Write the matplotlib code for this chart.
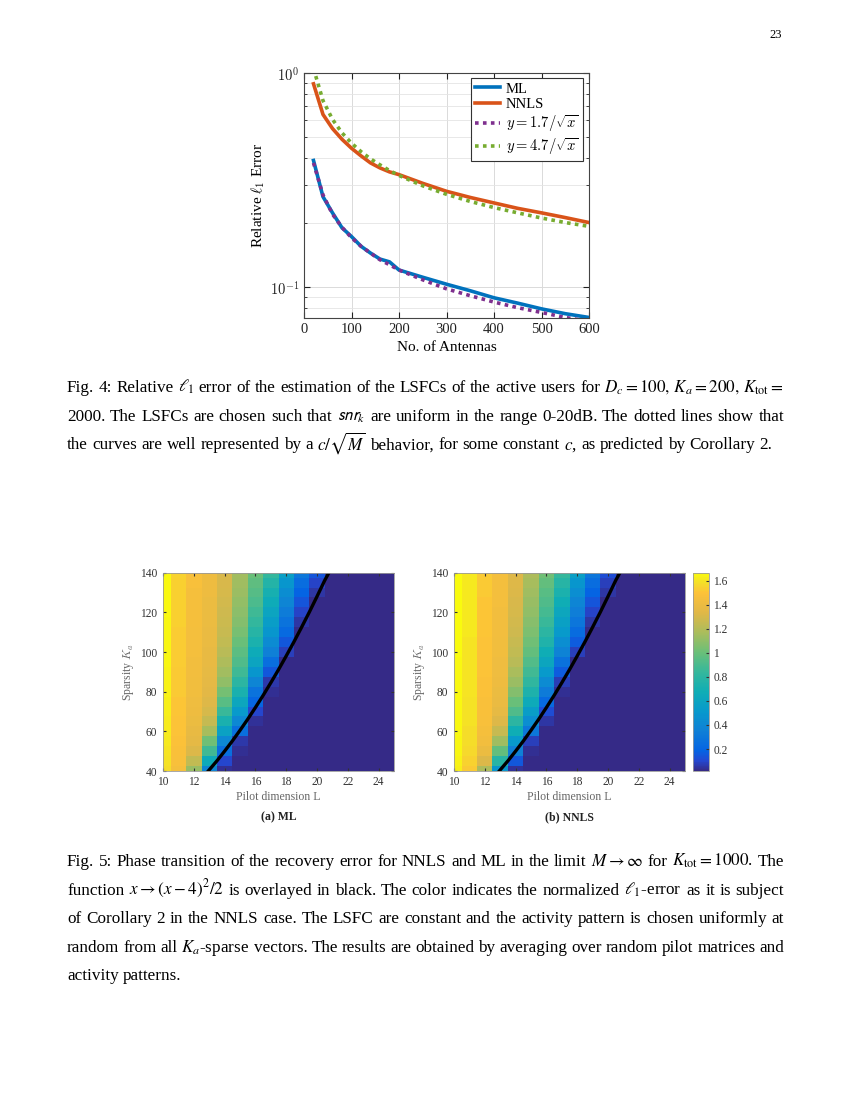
import re
import numpy as np
import matplotlib
matplotlib.use("Agg")
import matplotlib.pyplot as plt
from matplotlib.colors import LinearSegmentedColormap
from matplotlib.ticker import LogLocator, NullFormatter, FixedLocator

# ---- Fig. 4 data: relative l1 error vs number of antennas
antennas = [20, 40, 60, 80, 100, 120, 140, 160, 180, 200, 250, 300, 350, 400, 450, 500, 550, 600]
ml_err = [0.39, 0.264, 0.222, 0.189, 0.172, 0.155, 0.144, 0.135, 0.131, 0.120, 0.111,
          0.103, 0.096, 0.089, 0.084, 0.079, 0.075, 0.072]
nnls_err = [0.89, 0.64, 0.55, 0.49, 0.445, 0.41, 0.38, 0.36, 0.345, 0.335, 0.305,
            0.28, 0.262, 0.247, 0.233, 0.222, 0.211, 0.200]
fit_ml = [0.380, 0.269, 0.219, 0.190, 0.170, 0.155, 0.144, 0.134, 0.127, 0.120, 0.108,
          0.098, 0.091, 0.085, 0.080, 0.076, 0.072, 0.069]
fit_nnls = [1.05, 0.743, 0.607, 0.525, 0.47, 0.429, 0.397, 0.372, 0.350, 0.332, 0.297,
            0.271, 0.251, 0.235, 0.222, 0.210, 0.200, 0.192]

# ---- Fig. 5 data: phase transition, rows = sparsity, columns = pilot dimension
pilot_dim = [10, 11, 12, 13, 14, 15, 16, 17, 18, 19, 20, 21, 22, 23, 24, 25]
sparsity = [40, 45, 50, 55, 60, 65, 70, 75, 80, 85, 90, 95, 100, 105, 110, 115, 120, 125, 130, 135, 140]

ml_cols = [
    [1.58, 1.59, 1.60, 1.61, 1.62, 1.62, 1.63, 1.63, 1.64, 1.64, 1.64, 1.65, 1.65, 1.65, 1.65, 1.65, 1.66, 1.66, 1.66, 1.66, 1.66],
    [1.45, 1.47, 1.48, 1.49, 1.50, 1.50, 1.51, 1.51, 1.52, 1.52, 1.52, 1.53, 1.53, 1.53, 1.53, 1.54, 1.54, 1.54, 1.54, 1.54, 1.55],
    [1.12, 1.24, 1.32, 1.36, 1.38, 1.40, 1.41, 1.42, 1.43, 1.43, 1.44, 1.44, 1.45, 1.45, 1.45, 1.46, 1.46, 1.46, 1.46, 1.47, 1.47],
    [0.38, 0.65, 0.88, 1.02, 1.16, 1.25, 1.30, 1.33, 1.35, 1.36, 1.37, 1.38, 1.38, 1.39, 1.39, 1.40, 1.40, 1.40, 1.41, 1.41, 1.41],
    [0.03, 0.10, 0.25, 0.40, 0.58, 0.72, 0.85, 0.95, 1.03, 1.10, 1.15, 1.18, 1.21, 1.24, 1.26, 1.27, 1.28, 1.29, 1.30, 1.31, 1.31],
    [0.02, 0.02, 0.03, 0.06, 0.25, 0.40, 0.52, 0.62, 0.72, 0.80, 0.87, 0.92, 0.96, 1.00, 1.04, 1.07, 1.09, 1.11, 1.13, 1.14, 1.15],
    [0.02, 0.02, 0.02, 0.02, 0.02, 0.04, 0.10, 0.20, 0.28, 0.38, 0.50, 0.60, 0.66, 0.73, 0.78, 0.83, 0.87, 0.91, 0.94, 0.97, 1.00],
    [0.02, 0.02, 0.02, 0.02, 0.02, 0.02, 0.02, 0.02, 0.03, 0.06, 0.15, 0.25, 0.35, 0.42, 0.50, 0.55, 0.60, 0.66, 0.71, 0.77, 0.83],
    [0.02, 0.02, 0.02, 0.02, 0.02, 0.02, 0.02, 0.02, 0.02, 0.02, 0.02, 0.02, 0.08, 0.15, 0.22, 0.28, 0.33, 0.38, 0.43, 0.50, 0.56],
    [0.02, 0.02, 0.02, 0.02, 0.02, 0.02, 0.02, 0.02, 0.02, 0.02, 0.02, 0.02, 0.02, 0.02, 0.02, 0.05, 0.09, 0.14, 0.19, 0.24, 0.30],
    [0.02, 0.02, 0.02, 0.02, 0.02, 0.02, 0.02, 0.02, 0.02, 0.02, 0.02, 0.02, 0.02, 0.02, 0.02, 0.02, 0.02, 0.02, 0.05, 0.09, 0.14],
    [0.02] * 21, [0.02] * 21, [0.02] * 21, [0.02] * 21, [0.02] * 21,
]
nnls_cols = [
    [1.63, 1.64, 1.65, 1.65, 1.66, 1.66, 1.66, 1.66, 1.66, 1.66, 1.66, 1.66, 1.67, 1.67, 1.67, 1.67, 1.67, 1.67, 1.67, 1.67, 1.67],
    [1.52, 1.55, 1.57, 1.58, 1.58, 1.59, 1.59, 1.59, 1.60, 1.60, 1.60, 1.60, 1.60, 1.60, 1.61, 1.61, 1.61, 1.61, 1.61, 1.61, 1.61],
    [1.18, 1.32, 1.40, 1.44, 1.46, 1.47, 1.48, 1.48, 1.49, 1.49, 1.50, 1.50, 1.50, 1.50, 1.51, 1.51, 1.51, 1.51, 1.52, 1.52, 1.52],
    [0.50, 0.78, 0.98, 1.14, 1.26, 1.33, 1.37, 1.39, 1.40, 1.41, 1.42, 1.42, 1.43, 1.43, 1.44, 1.44, 1.44, 1.45, 1.45, 1.45, 1.45],
    [0.04, 0.15, 0.35, 0.52, 0.68, 0.80, 0.92, 1.00, 1.07, 1.13, 1.17, 1.21, 1.24, 1.26, 1.28, 1.29, 1.30, 1.31, 1.32, 1.33, 1.33],
    [0.02, 0.02, 0.03, 0.08, 0.30, 0.44, 0.55, 0.65, 0.74, 0.82, 0.88, 0.93, 0.98, 1.02, 1.05, 1.08, 1.10, 1.12, 1.14, 1.16, 1.18],
    [0.02, 0.02, 0.02, 0.02, 0.02, 0.05, 0.12, 0.22, 0.32, 0.42, 0.52, 0.61, 0.68, 0.75, 0.80, 0.85, 0.89, 0.92, 0.95, 0.98, 1.02],
    [0.02, 0.02, 0.02, 0.02, 0.02, 0.02, 0.02, 0.02, 0.03, 0.07, 0.16, 0.27, 0.37, 0.44, 0.52, 0.57, 0.62, 0.68, 0.73, 0.78, 0.84],
    [0.02, 0.02, 0.02, 0.02, 0.02, 0.02, 0.02, 0.02, 0.02, 0.02, 0.02, 0.02, 0.08, 0.16, 0.23, 0.29, 0.34, 0.39, 0.44, 0.50, 0.56],
    [0.02, 0.02, 0.02, 0.02, 0.02, 0.02, 0.02, 0.02, 0.02, 0.02, 0.02, 0.02, 0.02, 0.02, 0.02, 0.05, 0.09, 0.14, 0.19, 0.24, 0.29],
    [0.02, 0.02, 0.02, 0.02, 0.02, 0.02, 0.02, 0.02, 0.02, 0.02, 0.02, 0.02, 0.02, 0.02, 0.02, 0.02, 0.02, 0.02, 0.05, 0.08, 0.12],
    [0.02] * 21, [0.02] * 21, [0.02] * 21, [0.02] * 21, [0.02] * 21,
]

curve_L = [12.94, 13.5, 14, 14.5, 15, 15.5, 16, 16.5, 17, 17.5, 18, 18.5, 19, 19.5, 20, 20.5, 20.85]
curve_K = [40.0, 45.1, 50.0, 55.1, 60.5, 66.1, 72.0, 78.1, 84.5, 91.1, 98.0, 105.1, 112.5, 120.1, 128.0, 136.1, 141.1]

cbar_ticks = [0.2, 0.4, 0.6, 0.8, 1.0, 1.2, 1.4, 1.6]

# approx. MATLAB parula
parula = LinearSegmentedColormap.from_list("parula", [
    (0.00, (0.208, 0.166, 0.529)),
    (0.05, (0.140, 0.280, 0.820)),
    (0.10, (0.020, 0.390, 0.890)),
    (0.20, (0.060, 0.500, 0.840)),
    (0.30, (0.030, 0.600, 0.800)),
    (0.40, (0.060, 0.680, 0.710)),
    (0.50, (0.210, 0.720, 0.610)),
    (0.60, (0.420, 0.750, 0.470)),
    (0.70, (0.670, 0.740, 0.360)),
    (0.80, (0.880, 0.720, 0.280)),
    (0.90, (0.990, 0.760, 0.220)),
    (0.95, (0.960, 0.870, 0.160)),
    (1.00, (0.976, 0.983, 0.054)),
])

SERIF = ["Liberation Serif", "DejaVu Serif"]
plt.rcParams["font.family"] = SERIF
plt.rcParams["mathtext.fontset"] = "cm"

W, H = 850, 1100
fig = plt.figure(figsize=(W / 100, H / 100), dpi=100)


def box(l, t, r, b):
    return [l / W, 1 - b / H, (r - l) / W, (b - t) / H]


# ---------------- Fig. 4 ----------------
ax = fig.add_axes(box(304, 73, 589, 318))
ax.plot(antennas, ml_err, color="#0072BD", lw=2.6, label="ML")
ax.plot(antennas, nnls_err, color="#D95319", lw=2.6, label="NNLS")
ax.plot(antennas, fit_ml, color="#7E2F8E", lw=2.6, ls=(0, (1, 1.2)), label=r"$y = 1.7/\sqrt{x}$")
ax.plot(antennas, fit_nnls, color="#77AC30", lw=2.6, ls=(0, (1, 1.2)), label=r"$y = 4.7/\sqrt{x}$")
ax.set_yscale("log")
ax.set_xlim(0, 600)
ax.set_ylim(0.0716, 1.0)
ax.set_xticks(range(0, 601, 100))
ax.yaxis.set_major_locator(FixedLocator([0.1, 1.0]))
ax.yaxis.set_minor_locator(LogLocator(base=10, subs=range(2, 10)))
ax.yaxis.set_minor_formatter(NullFormatter())
ax.set_yticklabels([r"$10^{-1}$", r"$10^{0}$"])
ax.grid(which="major", color="#dadada", lw=0.7)
ax.grid(which="minor", axis="y", color="#e4e4e4", lw=0.6)
ax.set_axisbelow(True)
ax.tick_params(which="both", direction="in", top=True, right=True, labelsize=10.5, colors="#222222")
ax.tick_params(which="major", length=4)
ax.tick_params(which="minor", length=2)
for s in ax.spines.values():
    s.set_color("#444444")
    s.set_linewidth(0.8)
ax.set_xlabel("No. of Antennas", fontsize=11, labelpad=4)
ax.set_ylabel(r"Relative $\ell_1$ Error", fontsize=11, labelpad=2)
leg = ax.legend(loc="upper right", bbox_to_anchor=(1 - 6 / 285, 1 - 5 / 245), borderaxespad=0,
                fancybox=False, edgecolor="#333333", fontsize=10.5, handlelength=1.7,
                labelspacing=0.15, borderpad=0.3, handletextpad=0.4, framealpha=1)
leg.get_frame().set_linewidth(0.8)

# ---------------- Fig. 5 ----------------
ml_grid = np.array(ml_cols).T
nnls_grid = np.array(nnls_cols).T
vmin, vmax = 0.017, 1.667

panels = [(box(163, 572.7, 394, 771), ml_grid, "(a) ML"),
          (box(454, 572.7, 685, 771), nnls_grid, "(b) NNLS")]
for rect, grid, sub in panels:
    hax = fig.add_axes(rect)
    mesh = hax.pcolormesh(pilot_dim, sparsity, grid, shading="nearest", cmap=parula,
                          vmin=vmin, vmax=vmax)
    hax.plot(curve_L, curve_K, color="black", lw=2.4)
    hax.set_xlim(10, 25)
    hax.set_ylim(40, 140)
    hax.set_xticks(range(10, 25, 2))
    hax.set_yticks(range(40, 141, 20))
    hax.tick_params(direction="in", length=2.5, labelsize=8.3, colors="#333333",
                    top=True, right=True)
    hax.tick_params(axis="x", pad=3.5)
    hax.tick_params(axis="y", pad=4)
    for s in hax.spines.values():
        s.set_color("#999999")
        s.set_linewidth(0.6)
    hax.set_xlabel("Pilot dimension L", fontsize=8.5, color="#666666", labelpad=2)
    hax.set_ylabel(r"Sparsity $K_a$", fontsize=8.5, color="#666666", labelpad=3)
    cx = (rect[0] + rect[2] / 2)
    fig.text(cx, 1 - 817 / H, sub, fontsize=8.5, ha="center", va="center", fontweight="bold",
             color="#222222")

cax = fig.add_axes(box(693, 572.7, 709.3, 771))
cb = fig.colorbar(mesh, cax=cax, ticks=cbar_ticks)
cb.ax.set_yticklabels(["{:g}".format(t) for t in cbar_ticks])
cb.ax.tick_params(direction="in", length=2.5, labelsize=8.3, colors="#333333", pad=3)
cb.outline.set_edgecolor("#999999")
cb.outline.set_linewidth(0.6)

# ---------------- page text ----------------
fig.text(776 / W, 1 - 35 / H, "23", fontsize=9, ha="center", va="center")

TEXT_L, TEXT_R, LINE_GAP = 67, 784, 28.6
renderer = fig.canvas.get_renderer()


def put_par(lines, base_y):
    for i, line in enumerate(lines):
        toks = re.findall(r"(?:\$[^$]*\$|[^\s$])+", line)
        y = 1 - (base_y + i * LINE_GAP) / H
        objs = [fig.text(0, y, t, fontsize=12.3, va="baseline", ha="left", math_fontfamily="stix")
                for t in toks]
        ws = [o.get_window_extent(renderer).width for o in objs]
        if i < len(lines) - 1:
            gap = (TEXT_R - TEXT_L - sum(ws)) / (len(toks) - 1)
        else:
            gap = 4.3
        x = TEXT_L
        for o, w in zip(objs, ws):
            o.set_x(x / W)
            x += w + gap


put_par([
    r"Fig. 4: Relative $\ell_1$ error of the estimation of the LSFCs of the active users for $D_c = 100,\, K_a = 200,\, K_{\mathrm{tot}} =$",
    r"2000. The LSFCs are chosen such that $\mathsf{snr}_k$ are uniform in the range 0-20dB. The dotted lines show that",
    r"the curves are well represented by a $c/\sqrt{M}$ behavior, for some constant $c$, as predicted by Corollary 2.",
], 392)

put_par([
    r"Fig. 5: Phase transition of the recovery error for NNLS and ML in the limit $M \rightarrow \infty$ for $K_{\mathrm{tot}} = 1000$. The",
    r"function $x \rightarrow (x - 4)^2/2$ is overlayed in black. The color indicates the normalized $\ell_1$-error as it is subject",
    r"of Corollary 2 in the NNLS case. The LSFC are constant and the activity pattern is chosen uniformly at",
    r"random from all $K_a$-sparse vectors. The results are obtained by averaging over random pilot matrices and",
    r"activity patterns.",
], 866)

fig.savefig("out.png", dpi=100)
